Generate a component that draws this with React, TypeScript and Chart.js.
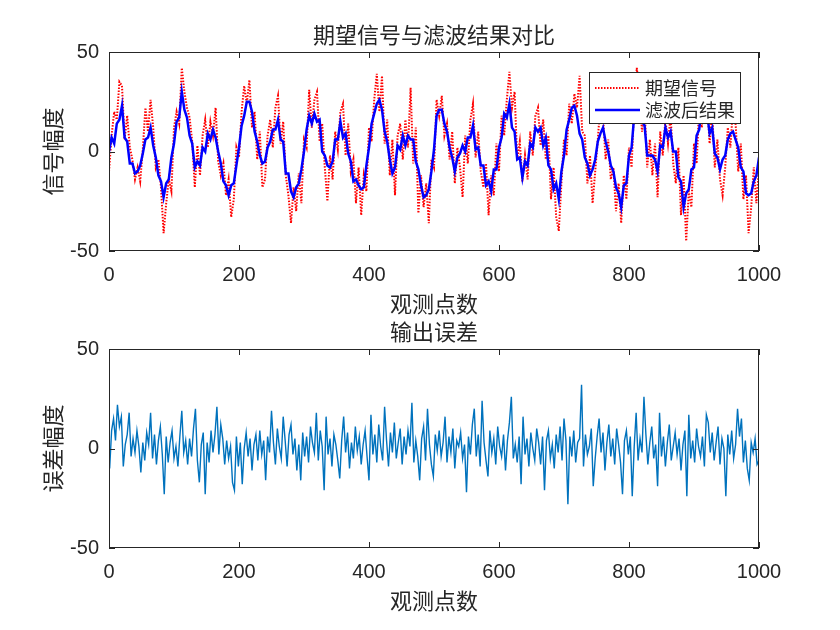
import { useEffect, useRef } from "react"
import { Chart, registerables } from "chart.js"

Chart.register(...registerables)

// observation index of point i = start + i * step
const TOP_STEP = 4
const ERR_START = 1
const ERR_STEP = 3

const X_MIN = 0
const X_MAX = 1000
const X_STEP = 200
const Y_MIN = -50
const Y_MAX = 50
const Y_STEP = 50

const DESIRED = [
  -10, 8, 20, 16, 35, 33, 6, 18, 2, -4,
  -14, -8, -15, 1, 22, 10, 26, 12, -8, -4,
  -18, -41, -26, -14, -20, 12, 20, 14, 42, 30,
  22, 17, 5, -18, 3, -12, 8, 16, 2, 15,
  8, 22, -5, -12, -6, -22, -14, -33, -24, 2,
  -3, 20, 33, 24, 36, 12, 20, -4, 10, -18,
  -14, 8, 16, 2, 22, 28, 4, 15, -12, -22,
  -36, -18, -30, -11, -26, 6, 2, 31, 12, 26,
  30, 5, 14, -8, -25, -2, -14, 10, 1, 20,
  24, -2, 14, -10, -4, -26, -8, -32, -12, -20,
  12, 5, 26, 39, 20, 38, 4, 16, -12, 6,
  -22, 8, 14, -4, 16, 2, 32, -6, 12, -31,
  -12, -28, -16, -36, -4, -8, 26, 18, 28, 8,
  14, -4, 10, -16, 2, -8, -23, 8, -6, 16,
  24, -3, 10, -10, -18, -6, -32, -12, -22, 4,
  -10, 18, 8, 26, 40, 22, 30, -4, 5, -15,
  -2, -14, 10, -2, 18, 22, 3, 16, -4, 8,
  -24, -8, -33, -40, -16, 6, -2, 24, 14, 29,
  22, 38, 10, 8, -16, -2, -26, -10, 6, 24,
  18, -4, 6, -14, -8, -30, -16, -36, -12, -24,
  2, -8, 24, 42, 30, 10, 22, -8, 6, -12,
  4, -23, 10, -2, 16, 4, 18, -6, -16, 2,
  -32, -12, -45, -20, -28, 4, -6, 22, 12, 35,
  26, 4, 20, -8, 6, -14, -22, -8, 12, 2,
  22, 14, -10, 4, -24, -12, -41, -28, -8, -26,
  -8,
]

const FILTERED = [
  0, 7, 4, 14, 16, 23, 7, 5, -6, -6,
  -11, -10, -7, -1, 6, 7, 12, 3, -3, -12,
  -15, -23, -16, -14, -3, 4, 15, 17, 30, 21,
  17, 8, 4, -8, -5, -7, 2, 0, 9, 6,
  11, 7, 0, -6, -15, -17, -22, -17, -16, -7,
  2, 13, 18, 25, 25, 20, 10, 5, -2, -6,
  -5, 2, 5, 11, 11, 16, 6, 5, -11, -11,
  -20, -23, -18, -16, -9, 0, 11, 18, 14, 19,
  15, 16, 0, -2, -7, -8, -5, 6, 6, 15,
  7, 9, -1, -5, -15, -14, -17, -19, -18, -7,
  2, 14, 19, 24, 26, 21, 10, 5, -4, -11,
  -8, 3, 1, 8, 3, 8, 6, 6, -5, -9,
  -17, -23, -22, -19, -10, 1, 18, 21, 21, 14,
  10, 2, -3, -10, -3, -1, 3, 0, 7, 7,
  13, 1, 2, -7, -7, -17, -15, -20, -9, -9,
  2, 7, 19, 17, 24, 12, 10, -4, -3, -13,
  -5, -7, 4, 2, 12, 10, 12, 3, 7, -7,
  -9, -19, -16, -24, -10, -2, 11, 16, 22, 23,
  18, 9, 6, -3, -6, -12, -9, -4, 5, 9,
  12, 5, 0, -7, -10, -18, -21, -28, -17, -16,
  -2, 2, 18, 20, 29, 15, 13, -2, -2, -2,
  -4, -10, 3, 2, 12, 7, 10, 0, 0, -13,
  -15, -28, -21, -19, -9, -8, 8, 11, 23, 21,
  20, 9, 12, -1, -3, -9, -4, -2, 6, 9,
  10, 6, 2, -8, -10, -21, -22, -21, -15, -12,
  -3,
]

const ERROR = [
  -10, 9, 15, 4, 22, 11, 16, -9, 2, 7,
  18, -4, 5, -2, 9, 1, -12, 3, -6, 8,
  2, 18, -5, 7, -8, 4, 11, -3, -23, 6,
  -7, 3, 9, -5, 1, -9, 6, 19, -2, 4,
  -8, 5, -4, 10, 20, -6, -17, 2, 8, -23,
  3, -7, 9, -2, 7, 21, -3, 12, 5, -8,
  4, -5, 1, -17, -21, 6, -9, 3, -18, 0,
  8, -4, 5, -11, 2, 7, -6, 9, -3, 4,
  -16, 6, -2, 19, 3, -8, 10, 1, -5, 16,
  4, -9, 7, 12, -3, 5, -11, 2, -16, 8,
  -4, 6, -7, 11, 3, -2, 18, -6, 9, 1,
  -21, 16, -3, 5, -9, 7, 2, -6, -15, 4,
  16, -2, 8, -10, 3, -5, 11, -1, 6, -8,
  2, 9, -4, -16, 17, -3, 7, -7, 12, 1,
  -6, 21, 4, -9, 8, -2, 13, -5, 3, 10,
  -8, 6, -3, 9, 1, 23, -7, 4, -4, -16,
  5, 11, -6, 20, 2, -8, -14, 7, -1, 9,
  -4, 3, 16, -7, 6, -2, 10, -10, 4, 1,
  8, -5, 2, -22, 6, -3, 12, 20, -4, 7,
  -9, 24, 3, -6, -14, 9, -2, 5, -8, 11,
  1, -4, 7, -11, 4, 13, 26, -5, 2, -7,
  6, -18, 16, -3, 5, -9, 8, 0, -6, 10,
  3, -8, 6, -21, 4, 9, -5, 2, -10, 7,
  -2, 11, -6, 15, 4, -28, 6, -4, 9, -7,
  3, 5, 32, -9, 7, -3, 1, 10, -19, -5,
  6, 15, -2, 8, -11, 3, 12, -4, 5, -8,
  10, 2, -7, -23, 4, 9, -3, 6, -24, 1,
  18, -6, 5, -2, 26, 7, -8, 3, 11, -5,
  2, -19, 18, -4, 6, -9, 3, 12, -6, 1,
  8, -3, 5, -11, 2, 9, -24, 17, -5, 4,
  -7, 10, 1, -4, 6, -9, 17, 13, -2, 8,
  -6, 3, 11, -8, 5, 0, -24, 7, -3, 9,
  -5, 2, 20, 6, 15, -7, 4, -10, -16, 3,
  -2, 5, -8, -6,
]

const AXIS = "#262626"
const NUM_FAMILY = '"Liberation Sans", Arial, sans-serif'
const CJK_FAMILY = '"Noto Sans CJK SC", "Noto Sans", sans-serif'
const TICK_LEN = 6

// MATLAB-like box with inward ticks on all four sides
const matlabAxes = {
  id: "matlabAxes",
  afterDatasetsDraw(chart: Chart) {
    const { ctx, chartArea: a, scales } = chart
    ctx.save()
    ctx.strokeStyle = AXIS
    ctx.lineWidth = 1
    ctx.strokeRect(Math.round(a.left) + 0.5, Math.round(a.top) + 0.5, Math.round(a.width) - 1, Math.round(a.height) - 1)
    ctx.beginPath()
    for (const t of scales.x.ticks) {
      const px = Math.round(scales.x.getPixelForValue(t.value)) + 0.5
      ctx.moveTo(px, a.bottom); ctx.lineTo(px, a.bottom - TICK_LEN)
      ctx.moveTo(px, a.top); ctx.lineTo(px, a.top + TICK_LEN)
    }
    for (const t of scales.y.ticks) {
      const py = Math.round(scales.y.getPixelForValue(t.value)) + 0.5
      ctx.moveTo(a.left, py); ctx.lineTo(a.left + TICK_LEN, py)
      ctx.moveTo(a.right, py); ctx.lineTo(a.right - TICK_LEN, py)
    }
    ctx.stroke()
    ctx.restore()
  },
}

// title centred over the axes box, like MATLAB
const axesTitle = {
  id: "axesTitle",
  afterDraw(chart: Chart, _args: unknown, opts: any) {
    if (!opts || !opts.text) return
    const { ctx, chartArea: a } = chart
    ctx.save()
    ctx.fillStyle = AXIS
    ctx.font = `22px ${CJK_FAMILY}`
    ctx.textAlign = "center"
    ctx.textBaseline = "middle"
    ctx.fillText(opts.text, (a.left + a.right) / 2, a.top - opts.offset)
    ctx.restore()
  },
}

// boxed legend inside the axes, top right
const boxLegend = {
  id: "boxLegend",
  afterDraw(chart: Chart, _args: unknown, opts: any) {
    if (!opts || !opts.display) return
    const { ctx, chartArea: a } = chart
    const x0 = Math.round(a.right - opts.right - opts.width)
    const y0 = Math.round(a.top + opts.top)
    ctx.save()
    ctx.fillStyle = "#fff"
    ctx.fillRect(x0, y0, opts.width, opts.height)
    ctx.strokeStyle = AXIS
    ctx.lineWidth = 1
    ctx.strokeRect(x0 + 0.5, y0 + 0.5, opts.width, opts.height)
    chart.data.datasets.forEach((ds: any, i) => {
      const y = y0 + opts.rowTop + i * opts.rowGap
      ctx.beginPath()
      ctx.setLineDash(ds.borderDash || [])
      ctx.strokeStyle = ds.borderColor
      ctx.lineWidth = ds.borderWidth
      ctx.moveTo(x0 + 6, y)
      ctx.lineTo(x0 + 51, y)
      ctx.stroke()
      ctx.setLineDash([])
      ctx.fillStyle = AXIS
      ctx.font = `18px ${CJK_FAMILY}`
      ctx.textBaseline = "middle"
      ctx.fillText(ds.label, x0 + 56, y)
    })
    ctx.restore()
  },
}

interface SubplotProps {
  top: number
  height: number
  title: string
  yLabel: string
  datasets: any[]
  padTop: number
  xAxisHeight: number
  xTitlePadBottom: number
  legend?: boolean
}

function Subplot({ top, height, title, yLabel, datasets, padTop, xAxisHeight, xTitlePadBottom, legend }: SubplotProps) {
  const canvasRef = useRef<HTMLCanvasElement>(null)
  const chartRef = useRef<Chart | null>(null)

  useEffect(() => {
    if (!canvasRef.current) return
    chartRef.current?.destroy()
    chartRef.current = new Chart(canvasRef.current, {
      type: "line",
      data: { datasets },
      options: {
        animation: false,
        responsive: false,
        maintainAspectRatio: false,
        layout: { padding: { left: 0, right: 81, top: padTop, bottom: 0 } },
        elements: { point: { radius: 0 }, line: { tension: 0 } },
        plugins: {
          legend: { display: false },
          tooltip: { enabled: false },
          title: { display: false },
          axesTitle: { text: title, offset: 17 },
          boxLegend: { display: !!legend, right: 19, top: 20, width: 151, height: 51, rowTop: 16, rowGap: 22 },
        } as any,
        scales: {
          x: {
            type: "linear",
            min: X_MIN,
            max: X_MAX,
            grid: { display: false, drawTicks: false },
            border: { display: false },
            ticks: {
              stepSize: X_STEP,
              color: AXIS,
              font: { family: NUM_FAMILY, size: 20 },
              padding: 12,
              maxRotation: 0,
              callback: (v: any) => String(v),
            },
            title: { display: true, text: "观测点数", color: AXIS, font: { family: CJK_FAMILY, size: 22 }, padding: { top: 0, bottom: xTitlePadBottom } },
            afterFit: (s: any) => { s.height = xAxisHeight; s.paddingLeft = 0; s.paddingRight = 0 },
          },
          y: {
            min: Y_MIN,
            max: Y_MAX,
            grid: { display: false, drawTicks: false },
            border: { display: false },
            ticks: { stepSize: Y_STEP, color: AXIS, font: { family: NUM_FAMILY, size: 20 }, padding: 10, callback: (v: any) => String(v) },
            title: { display: true, text: yLabel, color: AXIS, font: { family: CJK_FAMILY, size: 22 }, padding: { top: 39, bottom: 0 } },
            afterFit: (s: any) => { s.width = 109; s.paddingTop = 0; s.paddingBottom = 0 },
          },
        },
      },
      plugins: [matlabAxes, axesTitle, boxLegend],
    })
    return () => { chartRef.current?.destroy(); chartRef.current = null }
  }, [])

  return (
    <canvas
      ref={canvasRef}
      width={840}
      height={height}
      style={{ position: "absolute", left: 0, top, display: "block" }}
    />
  )
}

export default function App() {
  const desired = DESIRED.map((y, i) => ({ x: i * TOP_STEP, y }))
  const filtered = FILTERED.map((y, i) => ({ x: i * TOP_STEP, y }))
  const error = ERROR.map((y, i) => ({ x: ERR_START + i * ERR_STEP, y }))

  return (
    <div style={{ position: "absolute", left: 0, top: 0, width: 840, height: 630, background: "#fff" }}>
      <Subplot
        top={0}
        height={320}
        title="期望信号与滤波结果对比"
        yLabel="信号幅度"
        padTop={52}
        xAxisHeight={69}
        xTitlePadBottom={2.8}
        legend
        datasets={[
          { label: "期望信号", data: desired, borderColor: "#ff0000", borderWidth: 2, borderDash: [1.5, 1.5], order: 2 },
          { label: "滤波后结果", data: filtered, borderColor: "#0000ff", borderWidth: 2.5, order: 1 },
        ]}
      />
      <Subplot
        top={315}
        height={315}
        title="输出误差"
        yLabel="误差幅度"
        padTop={34}
        xAxisHeight={82}
        xTitlePadBottom={15.8}
        datasets={[
          { label: "误差", data: error, borderColor: "#0072bd", borderWidth: 1.4, order: 1 },
        ]}
      />
    </div>
  )
}
